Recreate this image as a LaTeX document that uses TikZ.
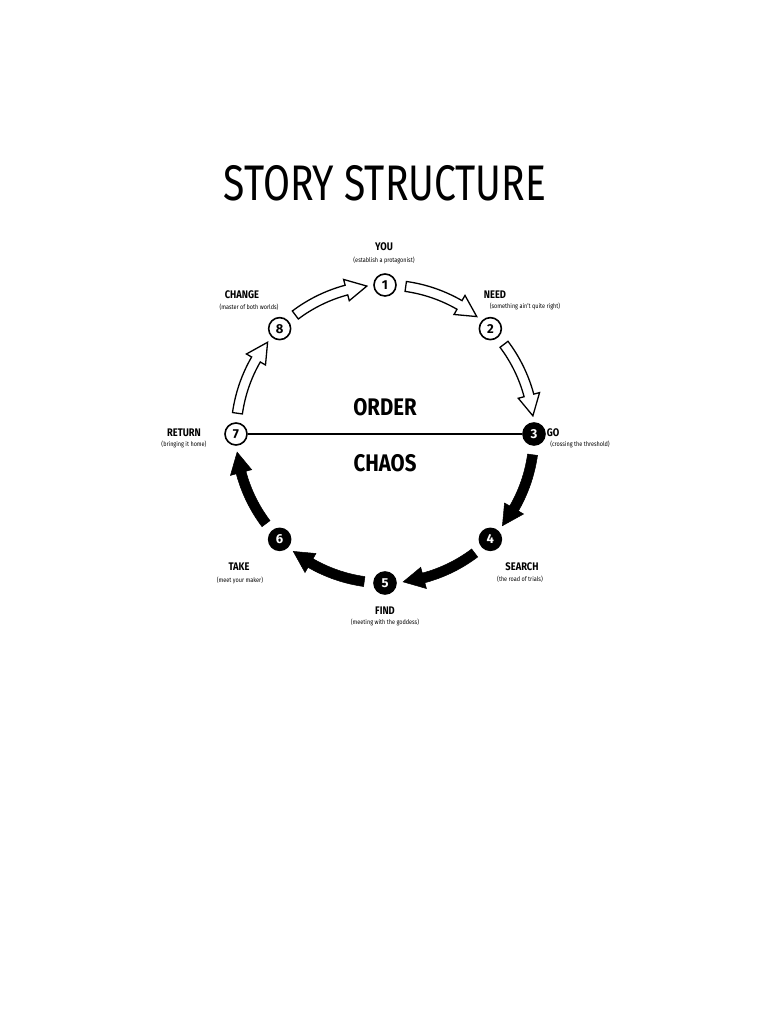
\documentclass[tikz,border=0pt]{standalone}
\usepackage{fontspec}
\setmainfont{Fira Sans}
\begin{document}
\begin{tikzpicture}[x=1pt,y=1pt,
  num/.style={circle,draw=black,line width=1.6pt,minimum size=22pt,inner sep=0pt,font=\bfseries\fontsize{13}{13}\selectfont},
  wnum/.style={num,fill=white},
  bnum/.style={num,fill=black,text=white},
  ttl/.style={font=\bfseries\fontsize{11}{11}\selectfont,inner sep=0pt},
  sub/.style={font=\fontsize{6.5}{7}\selectfont,inner sep=0pt},
  big/.style={font=\bfseries\fontsize{24}{24}\selectfont,inner sep=0pt},
  hollow/.style={fill=white,draw=black,line width=1.3pt,line join=miter},
  solid/.style={fill=black,draw=black,line width=0.5pt}]
\useasboundingbox (0,0) rectangle (768,1024);
\def\R{149}
\coordinate (c) at (385,590);
% arrow macro: #1 style, #2 start angle, #3 tip angle
\newcommand{\arcarrow}[3]{%
  \pgfmathsetmacro{\hb}{#3+8}%
  \draw[#1] ([shift={(#2:\R+5)}]c) arc[start angle=#2,end angle=\hb,radius=\R+5]
    -- ([shift={(\hb:\R+11)}]c) -- ([shift={(#3:\R)}]c) -- ([shift={(\hb:\R-11)}]c)
    -- ([shift={(\hb:\R-5)}]c) arc[start angle=\hb,end angle=#2,radius=\R-5] -- cycle;}
\arcarrow{hollow}{82}{52}
\arcarrow{hollow}{37}{7}
\arcarrow{hollow}{172}{142}
\arcarrow{hollow}{127}{97}
\arcarrow{solid}{-8}{-38}
\arcarrow{solid}{-53}{-83}
\arcarrow{solid}{-98}{-128}
\arcarrow{solid}{-143}{-173}
\node[wnum] (n1) at ([shift={(90:\R)}]c) {1};
\node[wnum] (n2) at ([shift={(45:\R)}]c) {2};
\node[bnum] (n3) at ([shift={(0:\R)}]c) {3};
\node[bnum] (n4) at ([shift={(-45:\R)}]c) {4};
\node[bnum] (n5) at ([shift={(-90:\R)}]c) {5};
\node[bnum] (n6) at ([shift={(-135:\R)}]c) {6};
\node[wnum] (n7) at ([shift={(180:\R)}]c) {7};
\node[wnum] (n8) at ([shift={(135:\R)}]c) {8};
\draw[line width=1.5pt] (n7) -- (n3);
\node[inner sep=0pt,font=\fontsize{50}{50}\selectfont] (title) at (385,841) {\scalebox{0.78}[1]{STORY STRUCTURE}};
\node[big] (order) at (385,617) {\scalebox{0.85}[1]{ORDER}};
\node[big] (chaos) at (385,561) {\scalebox{0.85}[1]{CHAOS}};
\node[ttl] (t1) at (384,777) {\scalebox{0.85}[1]{YOU}};
\node[sub] (s1) at (384,764) {\scalebox{0.85}[1]{(establish a protagonist)}};
\node[ttl] (t8) at (242,729) {\scalebox{0.85}[1]{CHANGE}};
\node[sub] (s8) at (249,717) {\scalebox{0.85}[1]{(master of both worlds)}};
\node[ttl] (t2) at (495,729) {\scalebox{0.85}[1]{NEED}};
\node[sub] (s2) at (525,718) {\scalebox{0.85}[1]{(something ain't quite right)}};
\node[ttl] (t3) at (553,591) {\scalebox{0.85}[1]{GO}};
\node[sub] (s3) at (580,580) {\scalebox{0.85}[1]{(crossing the threshold)}};
\node[ttl] (t7) at (184,591) {\scalebox{0.85}[1]{RETURN}};
\node[sub] (s7) at (184,580) {\scalebox{0.85}[1]{(bringing it home)}};
\node[ttl] (t4) at (522,457) {\scalebox{0.85}[1]{SEARCH}};
\node[sub] (s4) at (520,445) {\scalebox{0.85}[1]{(the road of trials)}};
\node[ttl] (t6) at (239,457) {\scalebox{0.85}[1]{TAKE}};
\node[sub] (s6) at (240,444) {\scalebox{0.85}[1]{(meet your maker)}};
\node[ttl] (t5) at (385,413) {\scalebox{0.85}[1]{FIND}};
\node[sub] (s5) at (385,402) {\scalebox{0.85}[1]{(meeting with the goddess)}};
\end{tikzpicture}
\end{document}
